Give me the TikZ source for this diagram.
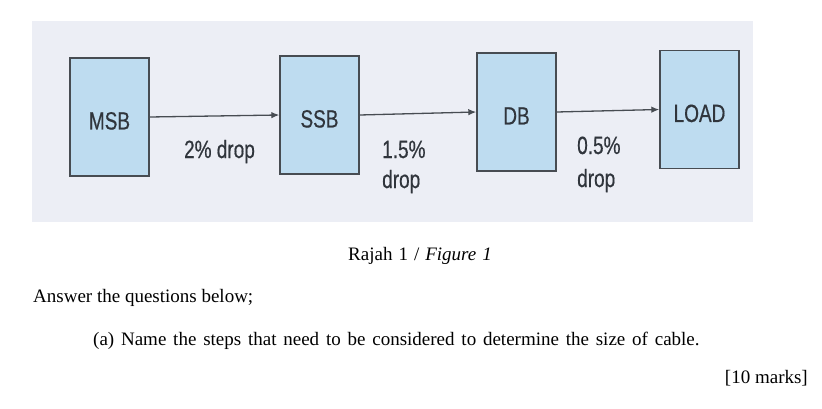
\documentclass[tikz,border=0pt]{standalone}
\usepackage{fontspec}
\setmainfont{Liberation Serif}
\newfontfamily\narrowfont{Liberation Sans}[FakeStretch=0.76,FakeBold=0.5]
\usetikzlibrary{arrows.meta}
\definecolor{panelbg}{HTML}{ECEEF5}
\definecolor{boxfill}{HTML}{BEDCF0}
\definecolor{boxline}{HTML}{474C52}
\definecolor{diagtext}{HTML}{30353C}
\tikzset{
  blockbox/.style={draw=boxline, line width=1.4pt, fill=boxfill,
    minimum width=79pt, minimum height=118pt, inner sep=0pt,
    text=diagtext, font=\narrowfont\fontsize{25}{30}\selectfont,
    text height=25pt, text depth=0pt},
  droplabel/.style={text=diagtext, font=\narrowfont\fontsize{25}{30}\selectfont, inner sep=0pt},
  flow/.style={draw=boxline, line width=1.3pt, -{Latex[length=8pt,width=6.5pt]}},
  bodytext/.style={inner sep=0pt, font=\fontsize{19}{23}\selectfont, text=black}
}
\begin{document}
\begin{tikzpicture}[x=1pt,y=-1pt]
\useasboundingbox (0,0) rectangle (822,409);
\fill[white] (0,0) rectangle (822,409);
\fill[panelbg] (32,21) rectangle (753,222);
\node[blockbox] (msb) at (109.5,117) {MSB};
\node[blockbox] (ssb) at (319.5,115) {SSB};
\node[blockbox] (db) at (516.5,112) {DB};
\node[blockbox] (load) at (699.5,109.5) {LOAD};
\draw[flow] (msb.east) -- (ssb.west);
\draw[flow] (ssb.east) -- (db.west);
\draw[flow] (db.east) -- (load.west);
\node[droplabel, anchor=base] (l1) at (219.5,158) {2\% drop};
\node[droplabel, anchor=base west] (l2a) at (382,158) {1.5\%};
\node[droplabel, anchor=base west] (l2b) at (382,188) {drop};
\node[droplabel, anchor=base west] (l3a) at (577,154) {0.5\%};
\node[droplabel, anchor=base west] (l3b) at (577,187) {drop};
\node[bodytext, anchor=base west] (cap) at (348,260) {\spaceskip=6pt Rajah 1 / \textit{Figure 1}};
\node[bodytext, anchor=base west] (q) at (33,302) {Answer the questions below;};
\node[bodytext, anchor=base west] (qa) at (93,345) {\spaceskip=6.8pt (a) Name the steps that need to be considered to determine the size of cable.};
\node[bodytext, anchor=base east] (marks) at (808,383) {[10 marks]};
\end{tikzpicture}
\end{document}
